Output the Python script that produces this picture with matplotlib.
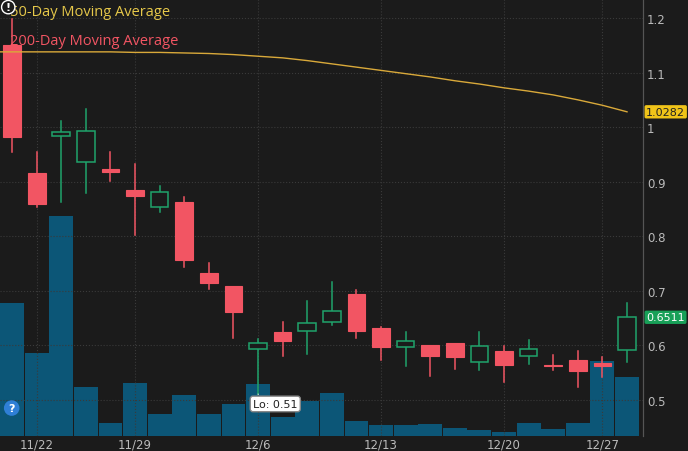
import matplotlib
matplotlib.use("Agg")
import matplotlib.pyplot as plt
from matplotlib.patches import Rectangle

# daily candles, 11/19 .. 12/28 (trading days only)
opens  = [1.150, 0.915, 0.983, 0.935, 0.923, 0.884, 0.853, 0.862, 0.732, 0.708, 0.593, 0.624, 0.626,
          0.642, 0.694, 0.631, 0.596, 0.600, 0.604, 0.569, 0.589, 0.580, 0.563, 0.572, 0.567, 0.591]
closes = [0.982, 0.859, 0.991, 0.993, 0.917, 0.873, 0.881, 0.756, 0.714, 0.660, 0.604, 0.607, 0.640,
          0.662, 0.626, 0.596, 0.607, 0.580, 0.578, 0.598, 0.563, 0.593, 0.561, 0.552, 0.561, 0.651]
highs  = [1.198, 0.954, 1.011, 1.033, 0.954, 0.932, 0.892, 0.871, 0.750, 0.708, 0.611, 0.642, 0.681,
          0.716, 0.701, 0.633, 0.624, 0.600, 0.604, 0.624, 0.598, 0.609, 0.582, 0.589, 0.578, 0.677]
lows   = [0.954, 0.853, 0.863, 0.879, 0.901, 0.802, 0.844, 0.743, 0.703, 0.613, 0.510, 0.580, 0.583,
          0.637, 0.613, 0.572, 0.561, 0.543, 0.556, 0.554, 0.532, 0.565, 0.554, 0.523, 0.541, 0.569]
volumes = [133, 83, 220, 49, 13, 53, 22, 41, 22, 32, 52, 19, 35, 43,
           15, 11, 11, 12, 8, 6, 4, 13, 7, 13, 75, 59]
ma50 = [1.138, 1.138, 1.138, 1.138, 1.138, 1.137, 1.137, 1.136, 1.135, 1.133, 1.130, 1.127, 1.122,
        1.116, 1.110, 1.104, 1.098, 1.092, 1.085, 1.079, 1.072, 1.066, 1.059, 1.050, 1.040, 1.028]
date_ticks = {1: "11/22", 5: "11/29", 10: "12/6", 15: "12/13", 20: "12/20", 24: "12/27"}
price_ticks = [0.5, 0.6, 0.7, 0.8, 0.9, 1.0, 1.1, 1.2]

BG = "#1b1b1b"
RED = "#f25563"
GREEN = "#1fa36b"
VOL = "#0c5677"
YELLOW = "#e6c84a"

fig = plt.figure(figsize=(6.88, 4.52), dpi=100, facecolor=BG)
ax = fig.add_axes([0, 0.033, 0.9346, 0.967])
ax.set_facecolor(BG)
vax = ax.twinx()
ax.set_zorder(vax.get_zorder() + 1)
ax.patch.set_visible(False)
vax.set_facecolor(BG)

n = len(opens)
xs = list(range(n))
vax.bar(xs, volumes, width=0.97, color=VOL, zorder=1)
vax.set_ylim(0, 437)
vax.set_yticks([])

w = 0.72
for i in xs:
    o, c, h, l = opens[i], closes[i], highs[i], lows[i]
    up = c >= o
    col = GREEN if up else RED
    ax.plot([i, i], [l, min(o, c)], color=col, lw=1.1, zorder=3)
    ax.plot([i, i], [max(o, c), h], color=col, lw=1.1, zorder=3)
    body = max(abs(c - o), 0.003)
    if up:
        ax.add_patch(Rectangle((i - w / 2, min(o, c)), w, body, facecolor=BG,
                               edgecolor=col, lw=1.1, zorder=4))
    else:
        ax.add_patch(Rectangle((i - w / 2, min(o, c)), w, body, facecolor=col,
                               edgecolor=col, lw=0.8, zorder=4))

ax.plot([-0.5] + xs, [ma50[0]] + ma50, color="#d9a93a", lw=1.0, zorder=5)

ax.set_xlim(-0.49, 25.65)
ax.set_ylim(0.433, 1.235)
ax.set_yticks(price_ticks)
ax.set_yticklabels(["0.5", "0.6", "0.7", "0.8", "0.9", "1", "1.1", "1.2"])
ax.yaxis.tick_right()
ax.tick_params(axis="y", colors="#bbbbbb", labelsize=8.5, length=0, pad=3)
ax.set_xticks(list(date_ticks.keys()))
ax.set_xticklabels(list(date_ticks.values()))
ax.tick_params(axis="x", colors="#bbbbbb", labelsize=8.5, length=0, pad=1)
ax.grid(True, color="#3a3a3a", ls=":", lw=0.8)
for s in ["top", "left", "bottom"]:
    ax.spines[s].set_visible(False)
    vax.spines[s].set_visible(False)
ax.spines["right"].set_color("#555555")
vax.spines["right"].set_color("#555555")

# legend texts
ax.text(0.016, 0.988, "50-Day Moving Average", transform=ax.transAxes, color=YELLOW,
        fontsize=10.5, va="top", family="Open Sans", zorder=6)
ax.text(0.016, 0.922, "200-Day Moving Average", transform=ax.transAxes, color=RED,
        fontsize=10.5, va="top", family="Open Sans", zorder=6)

# price labels on the right axis
ax.text(1.005, ma50[-1], "1.0282", transform=ax.get_yaxis_transform(), color="#222222",
        fontsize=8, va="center", ha="left",
        bbox=dict(boxstyle="round,pad=0.15", facecolor="#f0c419", edgecolor="none"))
ax.text(1.005, closes[-1], "0.6511", transform=ax.get_yaxis_transform(), color="white",
        fontsize=8, va="center", ha="left",
        bbox=dict(boxstyle="round,pad=0.15", facecolor="#18a058", edgecolor="none"))

# low annotation
ax.annotate("Lo: 0.51", xy=(10, lows[10]), xytext=(10.7, 0.492), color="#222222", fontsize=8,
            va="center", ha="center", zorder=7,
            bbox=dict(boxstyle="round,pad=0.25", facecolor="white", edgecolor="#888888"),
            arrowprops=dict(arrowstyle="-", color="white", lw=0.8))

# icons
fig.text(0.012, 0.982, "!", color="white", fontsize=8, ha="center", va="center", weight="bold",
         bbox=dict(boxstyle="circle,pad=0.15", facecolor=BG, edgecolor="white"))
fig.text(0.017, 0.095, "?", color="white", fontsize=8, ha="center", va="center", weight="bold",
         bbox=dict(boxstyle="circle,pad=0.25", facecolor="#2f7fd6", edgecolor="none"))

fig.savefig("out.png", dpi=100, facecolor=BG)
